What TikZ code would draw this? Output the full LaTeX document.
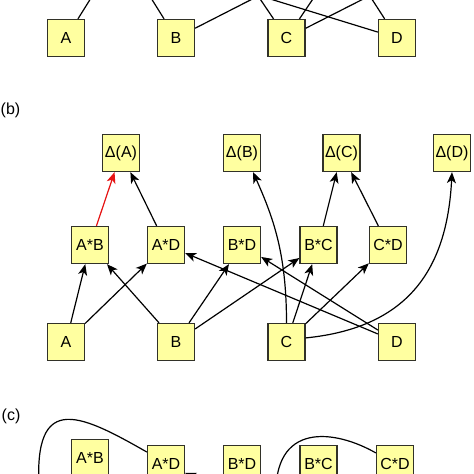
\documentclass[tikz,border=0pt]{standalone}
\usepackage{fontspec}
\setmainfont{Liberation Sans}
\usetikzlibrary{arrows.meta}
\definecolor{boxfill}{RGB}{255,255,160}
\definecolor{boxline}{RGB}{50,50,40}
\definecolor{redarrow}{RGB}{230,20,20}
\begin{document}
\begin{tikzpicture}[x=1pt,y=1pt,
  box/.style={draw=boxline, fill=boxfill, line width=1.3pt, minimum size=37pt, inner sep=0pt, font=\fontsize{16}{19}\selectfont},
  conn/.style={line width=1.2pt, -{Stealth[length=11pt,width=9pt,inset=3pt]}},
  plainline/.style={line width=1.2pt},
  lab/.style={font=\fontsize{16}{19}\selectfont, inner sep=0pt}]
\useasboundingbox (0,0) rectangle (474,-474);
\clip (0,0) rectangle (474,-474);
\fill[white] (0,0) rectangle (474,-474);

% ---------- panel (a), bottom row only visible ----------
\coordinate (ta1) at (96,10);
\coordinate (ta2) at (146,10);
\coordinate (ta3) at (270,10);
\coordinate (ta4) at (254,10);
\coordinate (ta5) at (319,10);
\coordinate (ta6) at (381,10);
\coordinate (ta7) at (241,10);
\coordinate (ta8) at (366,10);
\node[box] (aA) at (66,-38) {A};
\node[box] (aB) at (176,-38) {B};
\node[box] (aC) at (286.5,-38) {C};
\node[box] (aD) at (397,-38) {D};
\draw[plainline] (aA) -- (ta1);
\draw[plainline] (aB) -- (ta2);
\draw[plainline] (aB) -- (ta3);
\draw[plainline] (aC) -- (ta4);
\draw[plainline] (aC) -- (ta5);
\draw[plainline] (aC) -- (ta6);
\draw[plainline] (aD) -- (ta7);
\draw[plainline] (aD) -- (ta8);

% ---------- panel (b) ----------
\node[lab] (labb) at (10.5,-110) {(b)};
\node[box] (dA) at (121,-153) {Δ(A)};
\node[box] (dB) at (242,-153) {Δ(B)};
\node[box] (dC) at (341.5,-153) {Δ(C)};
\node[box] (dD) at (452,-153) {Δ(D)};
\node[box] (pAB) at (90,-245) {A*B};
\node[box] (pAD) at (166,-245) {A*D};
\node[box] (pBD) at (242,-245) {B*D};
\node[box] (pBC) at (318.5,-245) {B*C};
\node[box] (pCD) at (388,-245) {C*D};
\node[box] (bA) at (66,-342) {A};
\node[box] (bB) at (176,-342) {B};
\node[box] (bC) at (286.5,-342) {C};
\node[box] (bD) at (397,-342) {D};

\draw[conn] (bA) -- (pAB);
\draw[conn] (bA) -- (pAD);
\draw[conn] (bB) -- (pAB);
\draw[conn] (bB) -- (pBD);
\draw[conn] (bB) -- (pBC);
\draw[conn] (bC) -- (pBC);
\draw[conn] (bC) -- (pCD);
\draw[conn] (bD) -- (pAD);
\draw[conn] (bD) -- (pBD);
\draw[conn] (bC.north) .. controls +(0,70) and +(20,-45) .. (dB.-60);
\draw[conn] (bC.12) .. controls +(100,10) and +(-5,-100) .. (dD.south);
\draw[conn, draw=redarrow, fill=redarrow] (pAB) -- (dA);
\draw[conn] (pAD) -- (dA);
\draw[conn] (pBC) -- (dC);
\draw[conn] (pCD) -- (dC);

% ---------- panel (c) ----------
\node[lab] (labc) at (11,-416) {(c)};
\coordinate (cEnd1) at (40,-500);
\coordinate (cEnd2) at (276,-500);
\coordinate (cEnd3) at (290,-515);
\node[box] (cAB) at (90,-458) {A*B};
\node[box] (cAD) at (166,-464) {A*D};
\node[box] (cBD) at (242,-464) {B*D};
\node[box] (cBC) at (318.5,-464) {B*C};
\node[box] (cCD) at (395,-464) {C*D};
\draw[plainline] (cAD.148) .. controls +(-70,40) and +(-10,110) .. (cEnd1);
\draw[plainline] (cCD.150) .. controls +(-40,23) and +(-4,80) .. (cEnd2);
\draw[conn] (cEnd3) -- (cAD.-25);
\end{tikzpicture}
\end{document}
